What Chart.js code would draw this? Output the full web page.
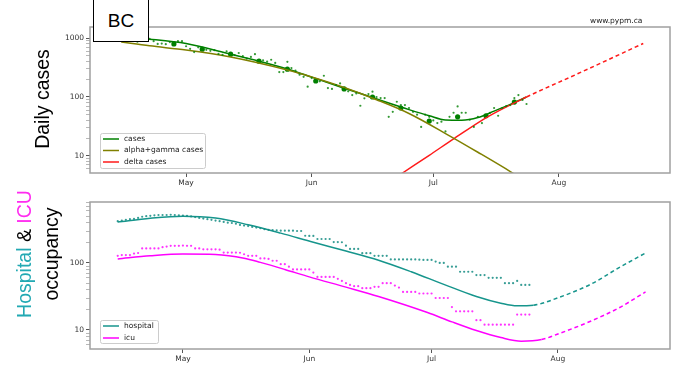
<!DOCTYPE html>
<html>
<head>
<meta charset="utf-8">
<script src="https://cdn.jsdelivr.net/npm/chart.js@4.4.1/dist/chart.umd.min.js"></script>
<style>
  body { margin: 0; width: 690px; height: 370px; background: #fff; position: relative; overflow: hidden; font-family: 'Liberation Sans', Arial, sans-serif; }
  canvas { position: absolute; left: 0; }
  #top { top: 0; }
  #bottom { top: 190px; }
  .ylab { position: absolute; transform: translate(-50%, -50%) rotate(-90deg); white-space: nowrap; font-size: 19.5px; line-height: 1; color: #000; }
  #bc { position: absolute; left: 93px; top: -1px; width: 56px; height: 43px; box-sizing: border-box; border: 1px solid #000; background: #fff; font-size: 19px; display: flex; align-items: center; justify-content: center; }
  #url { position: absolute; left: 590px; top: 16px; font: 7.5px 'DejaVu Sans', sans-serif; color: #222; }
</style>
</head>
<body>
<canvas id="top" width="690" height="190"></canvas>
<canvas id="bottom" width="690" height="180"></canvas>
<div class="ylab" style="left:43px; top:99px;">Daily cases</div>
<div class="ylab" style="left:25px; top:254px;"><span style="color:#22a9b3">Hospital</span> &amp; <span style="color:#ff2bf0">ICU</span></div>
<div class="ylab" style="left:52px; top:254px;">occupancy</div>
<div id="bc">BC</div>
<div id="url">www.pypm.ca</div>
<script>
// x values are days counted from May 1
const monthTicks = [0, 31, 61, 92];
const monthLabels = ['May', 'Jun', 'Jul', 'Aug'];
const projectionStart = 84;

// daily reported cases, first value is day -16 (Apr 15)
const dailyStart = -16;
const dailyCases = [
    950, 1000, 920, 980, 870, 960, 950, 970, 890, 800, 810, 790, 860, 800, 890, 890,
    730, 660, 580, 700, 650, 635, 610, 625, 540, 520,
    600, 535, 515, 560, 495, 450, 480, 535, 420, 420,
    400, 430, 380, 265, 265, 397, 310, 280, 240, 220,
    150, 210, 190, 185, 230, 142, 137, 160, 170, 137,
    125, 108, 115, 71, 95, 112, 123, 100, 96, 96,
    46, 56, 83, 73, 73, 65, 56, 50, 31, 50,
    46, 40, 36, 38, 26, 46, 54, 69, 54, 54,
    41, 31, 46, 36, 48, 54, 65, 48, 65, 70,
    73, 96, 108, 89, 76
];

// weekly averages (large dots)
const weeklyDays = [-10, -3, 4, 11, 18, 25, 32, 39, 46, 53, 60, 67, 74, 81];
const weeklyCases = [960, 800, 650, 535, 407, 297, 187, 137, 100, 65, 39, 46, 48, 82];

// model curves
const casesModelDays = [-16, -9, 0, 11, 18, 25, 31, 39, 46, 50, 55, 60, 64, 68, 72, 76, 80, 84];
const casesModel = [1050, 960, 810, 535, 407, 300, 218, 141, 98, 79, 61, 48, 40.7, 40.3, 44.7, 57.5, 75, 100];

const alphaDays = [-16, -9, 0, 11, 25, 31, 39, 47, 55, 65, 72, 80, 86];
const alphaModel = [861, 741, 631, 479, 288, 219, 145, 90, 52.5, 21.9, 11.5, 5.4, 2.95];

const deltaDays = [45, 53.4, 60, 66.3, 74.4, 84, 96.6, 112.8];
const deltaModel = [2.1, 5.1, 10.2, 20, 46, 100, 248, 813];

// hospital / icu occupancy, first value is day -16
const occStart = -16;
const hospitalObs = [
    420, 430, 440, 450, 455, 470, 490, 500, 505, 515, 520, 520, 520, 525, 520, 515,
    510, 505, 495, 485, 470, 460, 450, 440, 430, 420,
    410, 400, 395, 385, 370, 362, 355, 345, 338, 330,
    320, 312, 310, 308, 303, 303, 303, 303, 300, 300,
    255, 253, 253, 228, 228, 228, 228, 205, 205, 204,
    181, 162, 162, 162, 140, 140, 140, 128, 128, 128,
    128, 113, 113, 113, 113, 113, 113, 113, 112, 111,
    111, 111, 105, 100, 100, 88, 88, 88, 74, 74,
    74, 74, 66, 66, 66, 60, 60, 60, 60, 50,
    50, 50, 54, 47, 47, 47
];
const icuObs = [
    128, 131, 131, 131, 138, 141, 165, 165, 165, 165, 165, 172, 176, 180, 180, 180,
    182, 180, 180, 165, 165, 160, 160, 160, 160, 158,
    143, 143, 143, 143, 142, 135, 128, 128, 128, 117,
    117, 115, 108, 108, 96, 96, 88, 80, 80, 80,
    80, 80, 72, 62, 62, 62, 62, 62, 58, 54,
    50, 47, 45, 45, 42, 42, 42, 44, 44, 50,
    50, 50, 46, 43, 37, 37, 37, 37, 35, 35,
    35, 35, 30, 30, 30, 30, 22, 19, 19, 19,
    19, 19, 14, 14, 12, 12, 12, 12, 12, 12,
    12, 12, 17, 17, 17, 17
];

const hospitalDays = [-16, -8, 0, 8, 16, 24, 32, 40, 48, 56, 64, 72, 78, 82, 86, 92, 100, 107, 113.5];
const hospitalModel = [408, 466, 500, 468, 372, 279, 204, 151, 110, 74, 48, 31.6, 25.1, 22.9, 23.4, 30.2, 47.9, 85.1, 141];

const icuDays = [-16, -8, 0, 8, 15, 19, 25, 31, 40, 48, 60, 66, 72, 78, 83, 88, 92, 100, 107, 113.5];
const icuModel = [115, 128, 136, 134, 118, 102, 80, 62, 43.6, 31.6, 18.2, 13.2, 9.8, 7.7, 6.8, 7.2, 8.7, 13.5, 21.4, 37];

const toPoints = (xs, ys) => xs.map((x, i) => ({ x: x, y: ys[i] }));
const dailyPoints = (start, ys) => ys.map((y, i) => ({ x: start + i, y: y }));

function logTickValues(min, max) {
    const vals = [];
    for (let p = 0; p <= 4; p++) {
        for (let m = 1; m <= 9; m++) {
            const v = m * Math.pow(10, p);
            if (v >= min && v <= max) vals.push(v);
        }
    }
    return vals;
}
const isMajor = v => [1, 10, 100, 1000, 10000].includes(v);

Chart.defaults.font.family = "'DejaVu Sans', sans-serif";
Chart.defaults.font.size = 7.5;
Chart.defaults.color = '#333';

// gray box round the plot area
const frame = {
    id: 'frame',
    afterDraw(chart) {
        const { ctx, chartArea: a } = chart;
        ctx.save();
        ctx.strokeStyle = '#a0a0a0';
        ctx.lineWidth = 1.5;
        ctx.strokeRect(a.left, a.top, a.right - a.left, a.bottom - a.top);
        ctx.restore();
    }
};

// matplotlib style legend inside the plot
const insetLegend = {
    id: 'insetLegend',
    afterDraw(chart, args, opts) {
        if (!opts.items) return;
        const ctx = chart.ctx;
        const b = opts.box;
        ctx.save();
        ctx.fillStyle = 'rgba(255,255,255,0.85)';
        ctx.strokeStyle = '#cccccc';
        ctx.lineWidth = 1;
        ctx.beginPath();
        ctx.roundRect(b.x + 0.5, b.y + 0.5, b.w, b.h, 2);
        ctx.fill();
        ctx.stroke();
        ctx.font = "7.5px 'DejaVu Sans', sans-serif";
        ctx.textBaseline = 'middle';
        opts.items.forEach((item, i) => {
            const y = b.y + opts.first + i * opts.row;
            ctx.strokeStyle = item.color;
            ctx.lineWidth = 1.5;
            ctx.beginPath();
            ctx.moveTo(b.x + 3, y);
            ctx.lineTo(b.x + 19, y);
            ctx.stroke();
            ctx.fillStyle = '#222';
            ctx.fillText(item.text, b.x + 24, y);
        });
        ctx.restore();
    }
};

function makeScales(xMin, xMax, yMin, yMax, xHeight) {
    const yTicks = logTickValues(yMin, yMax);
    return {
        x: {
            type: 'linear',
            min: xMin,
            max: xMax,
            afterBuildTicks: scale => { scale.ticks = monthTicks.map(v => ({ value: v })); },
            afterFit: scale => { scale.height = xHeight; },
            ticks: {
                autoSkip: false,
                maxRotation: 0,
                padding: 2,
                callback: v => monthLabels[monthTicks.indexOf(v)]
            },
            grid: { drawOnChartArea: false, drawTicks: true, tickLength: 4, tickColor: '#555' },
            border: { display: false }
        },
        y: {
            type: 'logarithmic',
            min: yMin,
            max: yMax,
            afterBuildTicks: scale => { scale.ticks = yTicks.map(v => ({ value: v })); },
            afterFit: scale => { scale.width = 90; },
            ticks: {
                autoSkip: false,
                padding: 2,
                callback: v => isMajor(v) ? String(v) : ''
            },
            grid: {
                drawOnChartArea: false,
                drawTicks: true,
                tickLength: 4,
                tickColor: c => isMajor(c.tick && c.tick.value) ? '#555' : '#999',
                tickWidth: c => isMajor(c.tick && c.tick.value) ? 1 : 0.7
            },
            border: { display: false }
        }
    };
}

const dashAfter = start => ({
    borderDash: c => c.p0.parsed.x >= start ? [4, 3] : undefined
});

new Chart(document.getElementById('top'), {
    type: 'scatter',
    data: {
        datasets: [
            {
                label: 'daily',
                data: dailyPoints(dailyStart, dailyCases),
                showLine: false,
                pointRadius: 1.1,
                pointBackgroundColor: 'rgba(0,128,0,0.8)',
                pointBorderWidth: 0
            },
            {
                label: 'alpha+gamma cases',
                data: toPoints(alphaDays, alphaModel),
                showLine: true,
                borderColor: '#808000',
                borderWidth: 1.5,
                pointRadius: 0,
                cubicInterpolationMode: 'monotone'
            },
            {
                label: 'delta cases',
                data: toPoints(deltaDays, deltaModel),
                showLine: true,
                borderColor: '#ff1a1a',
                borderWidth: 1.5,
                pointRadius: 0,
                cubicInterpolationMode: 'monotone',
                segment: dashAfter(projectionStart)
            },
            {
                label: 'cases',
                data: toPoints(casesModelDays, casesModel),
                showLine: true,
                borderColor: '#008000',
                borderWidth: 1.5,
                pointRadius: 0,
                cubicInterpolationMode: 'monotone'
            },
            {
                label: 'weekly',
                data: toPoints(weeklyDays, weeklyCases),
                showLine: false,
                pointRadius: 2.6,
                pointBackgroundColor: '#008000',
                pointBorderWidth: 0
            }
        ]
    },
    options: {
        responsive: false,
        animation: false,
        devicePixelRatio: 1,
        layout: { padding: { top: 27, right: 20, left: 0, bottom: 0 } },
        scales: makeScales(-23.7, 119.4, 5.1, 1550, 17),
        plugins: {
            legend: { display: false },
            tooltip: { enabled: false },
            insetLegend: {
                box: { x: 100, y: 133, w: 105, h: 35 },
                first: 6, row: 11.5,
                items: [
                    { text: 'cases', color: '#008000' },
                    { text: 'alpha+gamma cases', color: '#808000' },
                    { text: 'delta cases', color: '#ff1a1a' }
                ]
            }
        }
    },
    plugins: [frame, insetLegend]
});

new Chart(document.getElementById('bottom'), {
    type: 'scatter',
    data: {
        datasets: [
            {
                label: 'hospital obs',
                data: dailyPoints(occStart, hospitalObs),
                showLine: false,
                pointRadius: 1.1,
                pointBackgroundColor: 'rgba(20,140,130,0.85)',
                pointBorderWidth: 0
            },
            {
                label: 'icu obs',
                data: dailyPoints(occStart, icuObs),
                showLine: false,
                pointRadius: 1.1,
                pointBackgroundColor: 'rgba(255,0,255,0.8)',
                pointBorderWidth: 0
            },
            {
                label: 'hospital',
                data: toPoints(hospitalDays, hospitalModel),
                showLine: true,
                borderColor: '#16958c',
                borderWidth: 1.5,
                pointRadius: 0,
                cubicInterpolationMode: 'monotone',
                segment: dashAfter(projectionStart)
            },
            {
                label: 'icu',
                data: toPoints(icuDays, icuModel),
                showLine: true,
                borderColor: '#ff00ff',
                borderWidth: 1.5,
                pointRadius: 0,
                cubicInterpolationMode: 'monotone',
                segment: dashAfter(projectionStart)
            }
        ]
    },
    options: {
        responsive: false,
        animation: false,
        devicePixelRatio: 1,
        layout: { padding: { top: 12, right: 20, left: 0, bottom: 0 } },
        scales: makeScales(-22.8, 119.5, 5.2, 813, 21),
        plugins: {
            legend: { display: false },
            tooltip: { enabled: false },
            insetLegend: {
                box: { x: 100, y: 130, w: 58, h: 23 },
                first: 6, row: 12,
                items: [
                    { text: 'hospital', color: '#16958c' },
                    { text: 'icu', color: '#ff00ff' }
                ]
            }
        }
    },
    plugins: [frame, insetLegend]
});
</script>
</body>
</html>
